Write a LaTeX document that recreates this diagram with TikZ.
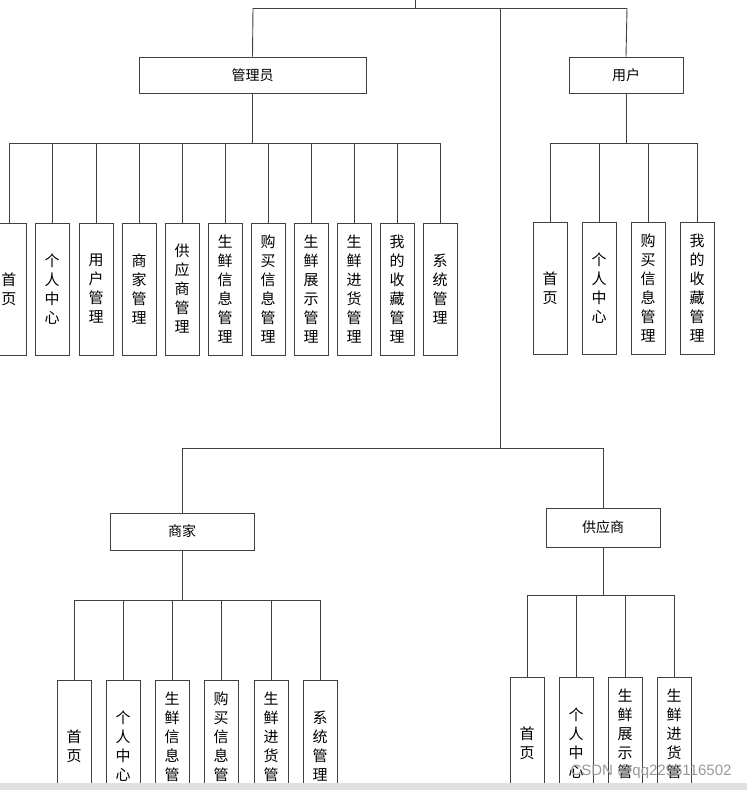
\documentclass[tikz,border=0pt]{standalone}
\usepackage{fontspec}
\newfontfamily\cjk{Noto Sans CJK SC}
\begin{document}
\begin{tikzpicture}[x=1pt,y=-1pt,
  box/.style={draw=black!75,line width=0.9pt,fill=white,inner sep=0pt,font=\cjk\fontsize{14}{16}\selectfont},
  leaf/.style={draw=black!75,line width=0.9pt,fill=white,inner sep=0pt,minimum width=34,align=center,font=\cjk\fontsize{15}{19}\selectfont},
  ln/.style={draw=black!75,line width=0.9pt}]
\useasboundingbox (0,0) rectangle (747,790);
\begin{scope}
\clip (0,0) rectangle (747,783);
% top
\coordinate (root) at (415,0);
\coordinate (top) at (415,8);
\coordinate (tl) at (253,8);
\coordinate (tr) at (627,8);
\coordinate (tm) at (500,8);
\coordinate (mb) at (500,448);
\node[box,minimum width=227,minimum height=36] (adm) at (252.5,75) {管理员};
\node[box,minimum width=114,minimum height=36] (usr) at (626,75) {用户};
\node[box,minimum width=144,minimum height=37] (mer) at (182,531.5) {商家};
\node[box,minimum width=114,minimum height=39] (sup) at (603,527.5) {供应商};
\draw[ln] (root) -- (top);
\draw[ln] (tl) -- (tr);
\draw[ln] (tl) -- (adm.north);
\draw[ln] (tr) -- (usr.north);
\draw[ln] (tm) -- (mb);
\draw[ln] (mer.north |- mb) -- (sup.north |- mb);
\draw[ln] (mer.north |- mb) -- (mer.north);
\draw[ln] (sup.north |- mb) -- (sup.north);
% admin children
\coordinate (abus) at (252.5,143);
\foreach \x/\t [count=\i] in {9/首\\页, 52/个\\人\\中\\心, 96/用\\户\\管\\理, 139/商\\家\\管\\理, 182/供\\应\\商\\管\\理, 225/生\\鲜\\信\\息\\管\\理, 268/购\\买\\信\\息\\管\\理, 311/生\\鲜\\展\\示\\管\\理, 354/生\\鲜\\进\\货\\管\\理, 397/我\\的\\收\\藏\\管\\理, 440/系\\统\\管\\理}
{ \node[leaf,minimum height=132] (a\i) at (\x,289) {\t};
  \draw[ln] (a\i.north) -- (a\i.north |- abus); }
\draw[ln] (a1.north |- abus) -- (a11.north |- abus);
\draw[ln] (adm.south) -- (abus);
% user children
\coordinate (ubus) at (626,143);
\foreach \x/\t [count=\i] in {550/首\\页, 599/个\\人\\中\\心, 648/购\\买\\信\\息\\管\\理, 697/我\\的\\收\\藏\\管\\理}
{ \node[leaf,minimum height=132] (u\i) at (\x,288) {\t};
  \draw[ln] (u\i.north) -- (u\i.north |- ubus); }
\draw[ln] (u1.north |- ubus) -- (u4.north |- ubus);
\draw[ln] (usr.south) -- (ubus);
% merchant children
\coordinate (mbus) at (182,600);
\foreach \x/\t [count=\i] in {74/首\\页, 123/个\\人\\中\\心, 172/生\\鲜\\信\\息\\管\\理, 221/购\\买\\信\\息\\管\\理, 271/生\\鲜\\进\\货\\管\\理, 320/系\\统\\管\\理}
{ \node[leaf,minimum height=132,anchor=north] (m\i) at (\x,680) {\t};
  \draw[ln] (m\i.north) -- (m\i.north |- mbus); }
\draw[ln] (m1.north |- mbus) -- (m6.north |- mbus);
\draw[ln] (mer.south) -- (mbus);
% supplier children
\coordinate (sbus) at (603,595);
\foreach \x/\t [count=\i] in {527/首\\页, 576/个\\人\\中\\心, 625/生\\鲜\\展\\示\\管\\理, 674/生\\鲜\\进\\货\\管\\理}
{ \node[leaf,minimum height=132,anchor=north] (s\i) at (\x,677) {\t};
  \draw[ln] (s\i.north) -- (s\i.north |- sbus); }
\draw[ln] (s1.north |- sbus) -- (s4.north |- sbus);
\draw[ln] (sup.south) -- (sbus);
\end{scope}
\fill[black!12] (0,783) rectangle (747,790);
\node[font=\fontspec{Liberation Sans}\fontsize{15}{15}\selectfont,text=black!40,anchor=east] (wm) at (735,772) {CSDN @qq2295116502};
\end{tikzpicture}
\end{document}
